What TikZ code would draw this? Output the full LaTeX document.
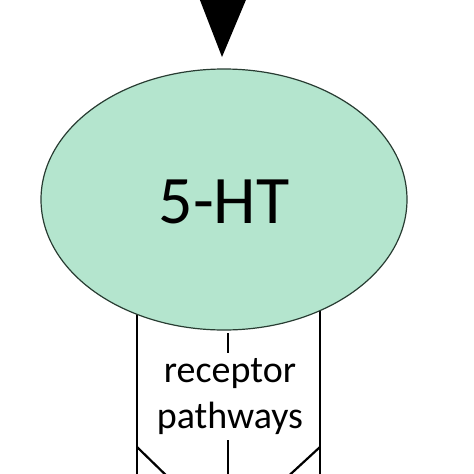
\documentclass[tikz,border=0pt]{standalone}
\usepackage{fontspec}
\setmainfont{Carlito}
\usetikzlibrary{shapes.geometric}
\definecolor{mint}{RGB}{180,229,206}
\definecolor{rim}{RGB}{40,60,50}
\tikzset{
  wire/.style={draw=black, line width=2.2pt},
  body/.style={ellipse, fill=mint, draw=rim, line width=1.2pt, minimum width=366pt, minimum height=261pt, inner sep=0pt},
  lbl/.style={font=\fontsize{38}{46}\selectfont, anchor=base, inner sep=0pt}
}
\begin{document}
\begin{tikzpicture}[x=1pt,y=-1pt]
\useasboundingbox (0,0) rectangle (474,474);
% connector end points
\coordinate (l0) at (137,250);
\coordinate (l1) at (137,447);
\coordinate (l2) at (137,482);
\coordinate (r0) at (320,250);
\coordinate (r1) at (320,447);
\coordinate (r2) at (320,482);
\coordinate (ld) at (173,482);
\coordinate (rd) at (282,482);
\coordinate (m0) at (228,333);
\coordinate (m1) at (228,353);
\coordinate (m2) at (228,440);
\coordinate (m3) at (228,482);
\draw[wire] (l0) -- (l1) -- (l2);
\draw[wire] (r0) -- (r1) -- (r2);
\draw[wire] (l1) -- (ld);
\draw[wire] (r1) -- (rd);
\draw[wire] (m0) -- (m1);
\draw[wire] (m2) -- (m3);
% triangle
\coordinate (ta) at (198,-5);
\coordinate (tb) at (248,-5);
\coordinate (tc) at (222,57);
\fill[black] (ta) -- (tb) -- (tc) -- cycle;
% ellipse
\node[body] (ht) at (224,199.5) {};
\node[font=\fontsize{68}{80}\selectfont, anchor=base, inner sep=0pt] (htlabel) at (224,223) {5-HT};
\node[lbl] (rec) at (230,382) {receptor};
\node[lbl] (path) at (230,428) {pathways};
\end{tikzpicture}
\end{document}
